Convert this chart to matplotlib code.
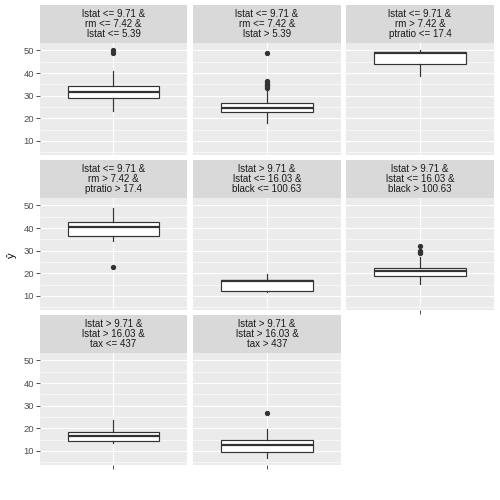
import numpy as np
import matplotlib
matplotlib.use('Agg')
import matplotlib.pyplot as plt

plt.rcParams['font.family'] = ['Liberation Sans', 'DejaVu Sans']

# facet labels (rule paths)
labels = [
    'lstat <= 9.71 &\nrm <= 7.42 &\nlstat <= 5.39',
    'lstat <= 9.71 &\nrm <= 7.42 &\nlstat > 5.39',
    'lstat <= 9.71 &\nrm > 7.42 &\nptratio <= 17.4',
    'lstat <= 9.71 &\nrm > 7.42 &\nptratio > 17.4',
    'lstat > 9.71 &\nlstat <= 16.03 &\nblack <= 100.63',
    'lstat > 9.71 &\nlstat <= 16.03 &\nblack > 100.63',
    'lstat > 9.71 &\nlstat > 16.03 &\ntax <= 437',
    'lstat > 9.71 &\nlstat > 16.03 &\ntax > 437',
]

# box statistics
whislo = [23.4, 17.8, 38.7, 34.4, 11.6, 15.2, 13.4, 6.8]
q1 = [28.8, 22.6, 43.9, 36.7, 12.1, 18.7, 14.6, 9.4]
med = [31.7, 24.7, 48.9, 40.7, 16.5, 21.0, 16.7, 12.6]
q3 = [34.4, 26.6, 49.4, 42.9, 16.9, 22.2, 18.6, 14.7]
whishi = [40.9, 32.0, 50.0, 49.1, 19.7, 27.1, 23.7, 19.7]
fliers = [
    [50.0, 48.8],
    [48.8, 33.2, 33.8, 34.6, 34.9, 35.2, 36.1, 36.5],
    [],
    [22.8],
    [],
    [32.2, 29.9, 29.4, 29.0],
    [],
    [26.9],
]

W, H = 500, 500
col_x = [40, 193, 346]
col_w = [147, 148, 148]
row_top = [5, 160, 315]
strip_h = 38
panel_h = 112

fig = plt.figure(figsize=(5, 5), dpi=100)

for i in range(8):
    r, c = divmod(i, 3)
    x0, w = col_x[c], col_w[c]
    st = row_top[r]
    # strip
    sax = fig.add_axes([x0 / W, 1 - (st + strip_h) / H, w / W, strip_h / H])
    sax.set_facecolor('#D9D9D9')
    sax.set_xticks([])
    sax.set_yticks([])
    for s in sax.spines.values():
        s.set_visible(False)
    sax.text(0.5, 0.5, labels[i], ha='center', va='center', fontsize=7.0,
             color='#1A1A1A', linespacing=1.0, transform=sax.transAxes)

    # panel
    ax = fig.add_axes([x0 / W, 1 - (st + strip_h + panel_h) / H, w / W, panel_h / H])
    ax.set_facecolor('#EBEBEB')
    for s in ax.spines.values():
        s.set_visible(False)

    stats = [dict(med=med[i], q1=q1[i], q3=q3[i], whislo=whislo[i],
                  whishi=whishi[i], fliers=fliers[i])]
    ax.bxp(stats, positions=[1], widths=0.75, showcaps=False, patch_artist=True,
           manage_ticks=False,
           boxprops=dict(facecolor='white', edgecolor='#333333', linewidth=0.85),
           medianprops=dict(color='#333333', linewidth=1.6, solid_capstyle='butt'),
           whiskerprops=dict(color='#333333', linewidth=0.85),
           flierprops=dict(marker='o', markersize=2.8, markerfacecolor='#333333',
                           markeredgecolor='#333333', linestyle='none'))

    ax.set_xlim(0.4, 1.6)
    ax.set_ylim(3.8, 53.3)
    ax.set_yticks([10, 20, 30, 40, 50])
    ax.set_yticks([5, 15, 25, 35, 45], minor=True)
    ax.set_xticks([1])
    ax.set_xticklabels([''])
    ax.grid(True, which='major', color='white', linewidth=0.8)
    ax.grid(True, which='minor', axis='y', color='white', linewidth=0.4)
    ax.set_axisbelow(True)

    ax.tick_params(axis='both', which='major', length=2.7, width=0.6,
                   color='#333333', labelsize=6.8, labelcolor='#4D4D4D', pad=1.5)
    ax.tick_params(axis='y', which='minor', length=0)
    if c != 0:
        ax.tick_params(axis='y', which='major', left=False, labelleft=False)
    if i < 5:
        ax.tick_params(axis='x', bottom=False)

fig.text(12 / W, 1 - 255 / H, 'ŷ', rotation=90, ha='center', va='center',
         fontsize=8, color='black')

fig.savefig('out.png', dpi=100)
